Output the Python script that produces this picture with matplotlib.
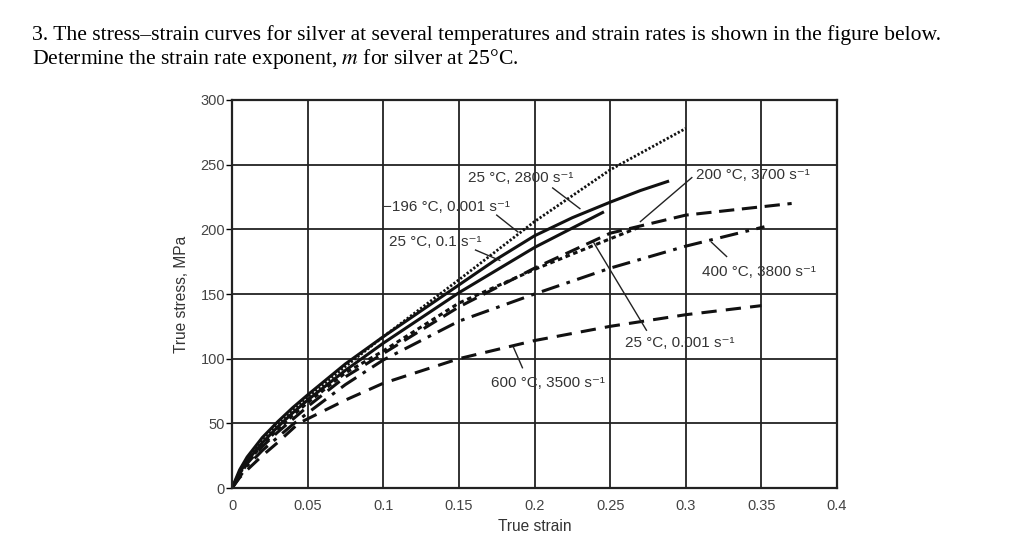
import matplotlib
matplotlib.use("Agg")
import matplotlib.pyplot as plt

plt.rcParams['mathtext.fontset'] = 'stix'

# curve data (true strain, true stress MPa)
x_m196 = [0, 0.005, 0.01, 0.02, 0.03, 0.04, 0.05, 0.075, 0.1, 0.15, 0.2, 0.25, 0.3]
y_m196 = [0, 12, 22, 37, 49, 60, 70, 94, 117, 161, 206, 246, 278]

x_25_2800 = [0, 0.005, 0.01, 0.02, 0.03, 0.04, 0.05, 0.075, 0.1, 0.15, 0.175, 0.2, 0.225, 0.25, 0.27, 0.288]
y_25_2800 = [0, 14, 24, 39, 51, 62, 72, 96, 117, 157, 177, 195, 209, 221, 230, 237]

x_25_01 = [0, 0.005, 0.01, 0.02, 0.03, 0.04, 0.05, 0.075, 0.1, 0.15, 0.2, 0.245]
y_25_01 = [0, 12, 21, 35, 47, 58, 68, 91, 112, 151, 186, 213]

x_25_0001 = [0, 0.005, 0.01, 0.02, 0.03, 0.04, 0.05, 0.075, 0.1, 0.15, 0.2, 0.24, 0.27]
y_25_0001 = [0, 11, 20, 33, 45, 56, 66, 89, 106, 143, 169, 188, 202]

x_200 = [0, 0.01, 0.02, 0.03, 0.04, 0.05, 0.075, 0.1, 0.15, 0.2, 0.25, 0.3, 0.37]
y_200 = [0, 19, 32, 43, 53, 63, 86, 104, 140, 170, 197, 211, 220]

x_400 = [0, 0.01, 0.02, 0.03, 0.04, 0.05, 0.075, 0.1, 0.15, 0.2, 0.25, 0.3, 0.352]
y_400 = [0, 17, 29, 39, 49, 58, 80, 99, 129, 150, 170, 187, 202]

x_600 = [0, 0.005, 0.01, 0.02, 0.03, 0.044, 0.075, 0.1, 0.15, 0.2, 0.25, 0.3, 0.35]
y_600 = [0, 8, 14, 25, 35, 50, 68, 81, 100, 114, 125, 134, 141]

x_ticks = [0, 0.05, 0.1, 0.15, 0.2, 0.25, 0.3, 0.35, 0.4]
x_ticklabels = ['0', '0.05', '0.1', '0.15', '0.2', '0.25', '0.3', '0.35', '0.4']
y_ticks = [0, 50, 100, 150, 200, 250, 300]

# (text, text position, leader start, leader end)
labels = [
    ('25 °C, 2800 s⁻¹', (0.156, 240), (0.212, 232), (0.230, 216)),
    ('−196 °C, 0.001 s⁻¹', (0.100, 217), (0.175, 211), (0.189, 198)),
    ('25 °C, 0.1 s⁻¹', (0.104, 190), (0.161, 184), (0.177, 176)),
    ('200 °C, 3700 s⁻¹', (0.307, 242), (0.304, 240), (0.270, 206)),
    ('400 °C, 3800 s⁻¹', (0.311, 167), (0.317, 190), (0.327, 179)),
    ('25 °C, 0.001 s⁻¹', (0.260, 112), (0.274, 122), (0.239, 190)),
    ('600 °C, 3500 s⁻¹', (0.171, 81), (0.192, 93), (0.186, 109)),
]

ink = '#111111'
sans = ['Liberation Sans', 'DejaVu Sans']
fig = plt.figure(figsize=(10.24, 5.54), dpi=100)
ax = fig.add_axes([0.2266, 0.1191, 0.5908, 0.7004])

ax.plot(x_600, y_600, color=ink, lw=2.2, linestyle=(0, (5, 3)))
ax.plot(x_400, y_400, color=ink, lw=2.2, linestyle=(0, (6, 2.5, 1.2, 2.5)))
ax.plot(x_200, y_200, color=ink, lw=2.2, linestyle=(0, (5, 2.5)))
ax.plot(x_25_0001, y_25_0001, color=ink, lw=2.2, linestyle=(0, (1.5, 1.2)))
ax.plot(x_25_01, y_25_01, color=ink, lw=2.2)
ax.plot(x_25_2800, y_25_2800, color=ink, lw=2.2)
ax.plot(x_m196, y_m196, color=ink, lw=2.0, linestyle=(0, (0.8, 0.7)))

for txt, pos, p0, p1 in labels:
    ax.text(pos[0], pos[1], txt, va='center', ha='left', family=sans, fontsize=11, color='#333333')
    ax.plot([p0[0], p1[0]], [p0[1], p1[1]], color='#222222', lw=1.0)

ax.set_xlim(0, 0.4)
ax.set_ylim(0, 300)
ax.set_xticks(x_ticks)
ax.set_xticklabels(x_ticklabels)
ax.set_yticks(y_ticks)
ax.grid(True, color='#222222', lw=1.3)
for s in ax.spines.values():
    s.set_linewidth(1.6)
    s.set_color('#222222')
ax.tick_params(axis='x', length=0, pad=8, labelsize=10.5, labelcolor='#444444')
ax.tick_params(axis='y', length=4, width=1, pad=1, labelsize=10.5, labelcolor='#444444')
for t in ax.get_xticklabels() + ax.get_yticklabels():
    t.set_family('Liberation Sans')
ax.set_xlabel('True strain', fontsize=11.2, color='#333333', family='Liberation Sans', labelpad=4)
ax.set_ylabel('True stress, MPa', fontsize=11.2, color='#333333', family='Liberation Sans', labelpad=8)

fig.text(0.031, 0.937, '3. The stress–strain curves for silver at several temperatures and strain rates is shown in the figure below.',
         family='Liberation Serif', fontsize=15.6, va='center', ha='left')
fig.text(0.031, 0.893, 'Determine the strain rate exponent, $m$ for silver at 25°C.',
         family='Liberation Serif', fontsize=15.6, va='center', ha='left')

fig.savefig('out.png', dpi=100)
plt.close(fig)
